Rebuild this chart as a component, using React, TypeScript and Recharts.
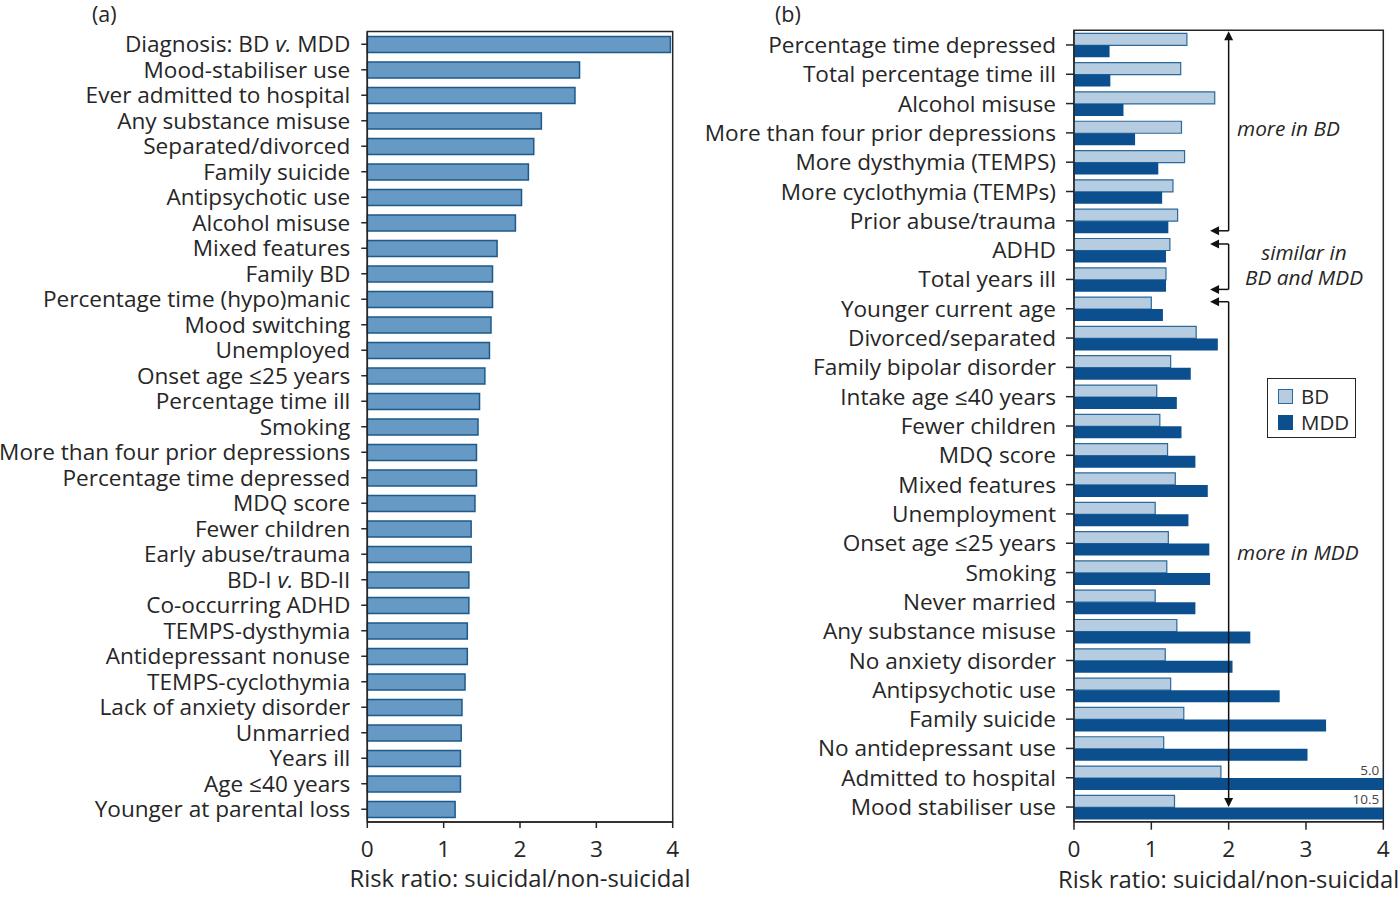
import React from 'react';
import { BarChart, Bar, XAxis, YAxis, ReferenceArea, Legend, LabelList } from 'recharts';

const FONT = '"Open Sans", "Noto Sans", "DejaVu Sans", sans-serif';
const INK = '#262626';
const WEIGHT = 400;

// ---------- Panel (a) data ----------
const aCategories = [
  'Diagnosis: BD v. MDD',
  'Mood-stabiliser use',
  'Ever admitted to hospital',
  'Any substance misuse',
  'Separated/divorced',
  'Family suicide',
  'Antipsychotic use',
  'Alcohol misuse',
  'Mixed features',
  'Family BD',
  'Percentage time (hypo)manic',
  'Mood switching',
  'Unemployed',
  'Onset age ≤25 years',
  'Percentage time ill',
  'Smoking',
  'More than four prior depressions',
  'Percentage time depressed',
  'MDQ score',
  'Fewer children',
  'Early abuse/trauma',
  'BD-I v. BD-II',
  'Co-occurring ADHD',
  'TEMPS-dysthymia',
  'Antidepressant nonuse',
  'TEMPS-cyclothymia',
  'Lack of anxiety disorder',
  'Unmarried',
  'Years ill',
  'Age ≤40 years',
  'Younger at parental loss',
];
const aValues = [
  3.97, 2.78, 2.72, 2.28, 2.18, 2.11, 2.02, 1.94, 1.7, 1.64, 1.64, 1.62, 1.6, 1.54, 1.47, 1.45,
  1.43, 1.43, 1.41, 1.36, 1.36, 1.33, 1.33, 1.31, 1.31, 1.28, 1.24, 1.23, 1.22, 1.22, 1.15,
];

// ---------- Panel (b) data ----------
const bCategories = [
  'Percentage time depressed',
  'Total percentage time ill',
  'Alcohol misuse',
  'More than four prior depressions',
  'More dysthymia (TEMPS)',
  'More cyclothymia (TEMPs)',
  'Prior abuse/trauma',
  'ADHD',
  'Total years ill',
  'Younger current age',
  'Divorced/separated',
  'Family bipolar disorder',
  'Intake age ≤40 years',
  'Fewer children',
  'MDQ score',
  'Mixed features',
  'Unemployment',
  'Onset age ≤25 years',
  'Smoking',
  'Never married',
  'Any substance misuse',
  'No anxiety disorder',
  'Antipsychotic use',
  'Family suicide',
  'No antidepressant use',
  'Admitted to hospital',
  'Mood stabiliser use',
];
const bBD = [
  1.46, 1.38, 1.82, 1.39, 1.43, 1.28, 1.34, 1.24, 1.19, 1.0, 1.58, 1.25, 1.07, 1.11, 1.21, 1.31,
  1.05, 1.22, 1.2, 1.05, 1.33, 1.18, 1.25, 1.42, 1.16, 1.9, 1.3,
];
const bMDD = [
  0.46, 0.47, 0.64, 0.79, 1.09, 1.14, 1.22, 1.19, 1.19, 1.15, 1.86, 1.51, 1.33, 1.39, 1.57, 1.73,
  1.48, 1.75, 1.76, 1.57, 2.28, 2.05, 2.66, 3.26, 3.02, 5.0, 10.5,
];
const xTicks = [0, 1, 2, 3, 4];
const axisTitle = 'Risk ratio: suicidal/non-suicidal';

const aData = aCategories.map((name, i) => ({ name, value: aValues[i] }));
const bData = bCategories.map((name, i) => ({ name, BD: bBD[i], MDD: bMDD[i] }));

// ---------- layout ----------
const A_W = 700;
const H = 897;
const A_M = { top: 31.5, right: 27.3, bottom: 0, left: 0 };
const A_YW = 367.3;
const A_XH = 75;

const B_LEFT = 700;
const B_W = 700;
const B_M = { top: 30.3, right: 16.7, bottom: 0, left: 0 };
const B_YW = 374;
const B_XH = 75.3;

const BP = {
  left: B_LEFT + B_M.left + B_YW,
  right: B_LEFT + B_W - B_M.right,
  top: B_M.top,
  bottom: H - B_M.bottom - B_XH,
};
const bBand = (BP.bottom - BP.top) / bCategories.length;
const bx = (v: number) => BP.left + (v * (BP.right - BP.left)) / 4;
const by = (f: number) => BP.top + f * bBand;

const bSeries = [
  { key: 'BD', fill: '#b6cde1', stroke: '#2b6a9b' },
  { key: 'MDD', fill: '#0b4f8f', stroke: '#0b4f8f' },
];

const LABEL_SIZE = 22.6;

const CatTick = (props: any) => {
  const { x, y, payload, fontSize } = props;
  const label: string = String(payload.value);
  const parts = label.split(' v. ');
  return (
    <text
      x={x}
      y={y}
      dy="0.355em"
      textAnchor="end"
      fontSize={fontSize}
      fontWeight={WEIGHT}
      fill={INK}
      fontFamily={FONT}
      style={{ whiteSpace: 'pre' }}
    >
      {parts.length === 2 ? (
        <>
          <tspan>{parts[0] + ' '}</tspan>
          <tspan fontStyle="italic">v.</tspan>
          <tspan>{' ' + parts[1]}</tspan>
        </>
      ) : (
        label
      )}
    </text>
  );
};

const LegendBox = (props: any) => {
  const payload = props.payload || [];
  return (
    <div
      style={{
        width: 89,
        height: 60,
        boxSizing: 'border-box',
        border: `1.5px solid ${INK}`,
        background: '#fff',
        padding: '4px 0 0 10px',
        fontFamily: FONT,
        fontWeight: WEIGHT,
        fontSize: 20.5,
        color: INK,
      }}
    >
      {payload.map((p: any) => {
        const s = bSeries.find((q) => q.key === p.value) || bSeries[0];
        return (
          <div key={p.value} style={{ display: 'flex', alignItems: 'center', height: 26 }}>
            <span
              style={{
                display: 'inline-block',
                width: 15,
                height: 15,
                boxSizing: 'border-box',
                background: s.fill,
                border: `1.5px solid ${s.stroke}`,
                marginRight: 8,
              }}
            />
            <span style={{ lineHeight: '26px' }}>{p.value}</span>
          </div>
        );
      })}
    </div>
  );
};

const B_PLOT_RIGHT = B_W - B_M.right;
const OverflowLabel = (p: any) => {
  const v = Number(p.value);
  if (!(v > 4)) return null;
  const xr = Math.min(Number(p.x) + Number(p.width), B_PLOT_RIGHT) - 4;
  return (
    <text x={xr} y={Number(p.y) - 3} textAnchor="end" fontSize={13.5} fill="#444" fontFamily={FONT}>
      {v.toFixed(1)}
    </text>
  );
};

const LeftArrow = ({ y }: { y: number }) => {
  const x2 = bx(2);
  const tip = bx(1.76);
  return (
    <g>
      <line x1={x2} y1={y} x2={tip + 6} y2={y} stroke="#111" strokeWidth={1.5} />
      <polygon points={`${tip},${y} ${tip + 9},${y - 4.5} ${tip + 9},${y + 4.5}`} fill="#111" />
    </g>
  );
};

export default function App() {
  const tickStyle = { fontSize: LABEL_SIZE, fill: INK, fontFamily: FONT, fontWeight: WEIGHT };
  const titleStyle = { fontSize: 23.8, fill: INK, fontFamily: FONT, fontWeight: WEIGHT };
  const x2 = bx(2);
  const yUpTip = by(0.03);
  const yEndBD = by(6.84);
  const ySim1 = by(7.29);
  const ySim2 = by(8.84);
  const yMdd = by(9.26);
  const yDownTip = by(26.5);
  return (
    <div style={{ position: 'absolute', left: 0, top: 0, width: 1400, height: H, background: '#fff' }}>
      <div style={{ position: 'absolute', left: 0, top: 0 }}>
        <BarChart width={A_W} height={H} data={aData} layout="vertical" margin={A_M}>
          <XAxis
            type="number"
            domain={[0, 4]}
            ticks={xTicks}
            tickSize={6}
            tickMargin={13}
            height={A_XH}
            tick={tickStyle}
            axisLine={{ stroke: INK, strokeWidth: 1.5 }}
            tickLine={{ stroke: INK, strokeWidth: 1.5 }}
            label={{ value: axisTitle, position: 'insideBottom', offset: 10, ...titleStyle }}
          />
          <YAxis
            type="category"
            dataKey="name"
            width={A_YW}
            interval={0}
            tickSize={6}
            tickMargin={11}
            tick={(p: any) => <CatTick {...p} fontSize={LABEL_SIZE} />}
            axisLine={{ stroke: INK, strokeWidth: 1.5 }}
            tickLine={{ stroke: INK, strokeWidth: 1.5 }}
          />
          <ReferenceArea x1={0} x2={4} fill="none" stroke={INK} strokeWidth={1.5} ifOverflow="visible" />
          <Bar dataKey="value" fill="#6699c3" stroke="#1d5a8b" strokeWidth={1.5} barSize={16} isAnimationActive={false} />
        </BarChart>
      </div>

      <div style={{ position: 'absolute', left: B_LEFT, top: 0 }}>
        <BarChart width={B_W} height={H} data={bData} layout="vertical" margin={B_M} barGap={0}>
          <XAxis
            type="number"
            domain={[0, 4]}
            allowDataOverflow
            ticks={xTicks}
            tickSize={8}
            tickMargin={11}
            height={B_XH}
            tick={tickStyle}
            axisLine={{ stroke: INK, strokeWidth: 1.5 }}
            tickLine={{ stroke: INK, strokeWidth: 1.5 }}
            label={{ value: axisTitle, position: 'insideBottom', offset: 9, ...titleStyle }}
          />
          <YAxis
            type="category"
            dataKey="name"
            width={B_YW}
            interval={0}
            tickSize={8}
            tickMargin={10}
            tick={(p: any) => <CatTick {...p} fontSize={LABEL_SIZE} />}
            axisLine={{ stroke: INK, strokeWidth: 1.5 }}
            tickLine={{ stroke: INK, strokeWidth: 1.5 }}
          />
          <ReferenceArea x1={0} x2={4} fill="none" stroke={INK} strokeWidth={1.5} ifOverflow="visible" />
          <Legend
            layout="vertical"
            align="center"
            verticalAlign="middle"
            wrapperStyle={{ left: 567, top: 378, width: 89, height: 60 }}
            content={LegendBox}
          />
          <Bar dataKey="BD" name="BD" fill={bSeries[0].fill} stroke={bSeries[0].stroke} strokeWidth={1.2} barSize={12} isAnimationActive={false} />
          <Bar dataKey="MDD" name="MDD" fill={bSeries[1].fill} stroke={bSeries[1].stroke} strokeWidth={0} barSize={12} isAnimationActive={false}>
            <LabelList dataKey="MDD" content={OverflowLabel} />
          </Bar>
        </BarChart>
      </div>

      <svg
        width={1400}
        height={H}
        style={{ position: 'absolute', left: 0, top: 0, pointerEvents: 'none' }}
        fontFamily={FONT}
        fontWeight={WEIGHT}
      >
        <text x={92} y={22} fontSize={21.5} fill={INK}>(a)</text>
        <text x={775} y={22} fontSize={21.5} fill={INK}>(b)</text>

        {/* more in BD */}
        <line x1={x2} y1={yUpTip + 6} x2={x2} y2={yEndBD} stroke="#111" strokeWidth={1.5} />
        <polygon points={`${x2},${yUpTip} ${x2 - 4.5},${yUpTip + 9} ${x2 + 4.5},${yUpTip + 9}`} fill="#111" />
        <LeftArrow y={yEndBD} />

        {/* similar */}
        <line x1={x2} y1={ySim1} x2={x2} y2={ySim2} stroke="#111" strokeWidth={1.5} />
        <LeftArrow y={ySim1} />
        <LeftArrow y={ySim2} />

        {/* more in MDD */}
        <line x1={x2} y1={yMdd} x2={x2} y2={yDownTip - 6} stroke="#111" strokeWidth={1.5} />
        <polygon points={`${x2},${yDownTip} ${x2 - 4.5},${yDownTip - 9} ${x2 + 4.5},${yDownTip - 9}`} fill="#111" />
        <LeftArrow y={yMdd} />

        <text x={1237} y={136} fontSize={20.8} fontStyle="italic" fill={INK}>more in BD</text>
        <text x={1304} y={260} fontSize={20.8} fontStyle="italic" fill={INK} textAnchor="middle">similar in</text>
        <text x={1304} y={285} fontSize={20.8} fontStyle="italic" fill={INK} textAnchor="middle">BD and MDD</text>
        <text x={1237} y={560} fontSize={20.8} fontStyle="italic" fill={INK}>more in MDD</text>
      </svg>
    </div>
  );
}
